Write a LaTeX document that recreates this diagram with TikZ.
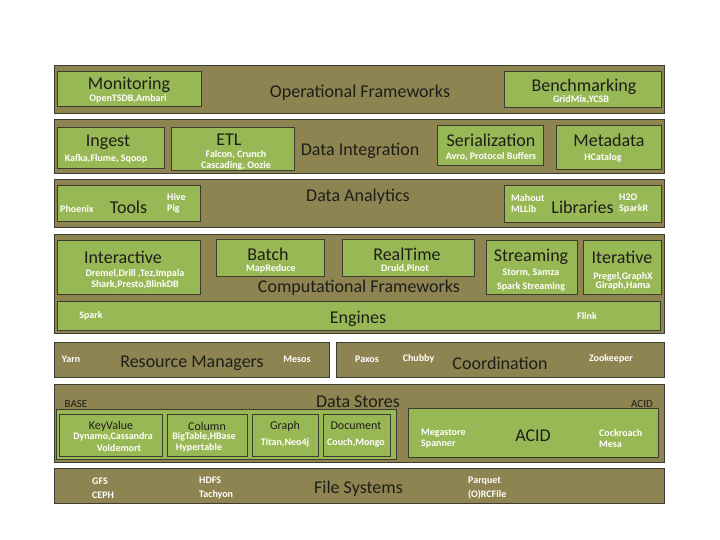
\documentclass[tikz,border=0pt]{standalone}
\usepackage{fontspec}
\setmainfont{Carlito}
\definecolor{olive}{RGB}{142,132,82}
\definecolor{leaf}{RGB}{152,184,86}
\definecolor{edge}{RGB}{60,60,48}
\definecolor{ink}{RGB}{30,30,25}
\begin{document}
\begin{tikzpicture}[x=1pt,y=-1pt,
    layer/.style={draw=edge,fill=olive,line width=1pt},
    block/.style={draw=edge,fill=leaf,line width=1pt},
    title/.style={font=\fontsize{18}{20}\selectfont,text=ink,inner sep=0pt},
    label/.style={font=\fontsize{12}{14}\selectfont,text=ink,inner sep=0pt},
    note/.style={font=\fontsize{11}{13}\selectfont,text=ink,inner sep=0pt},
    sub/.style={font=\bfseries\fontsize{10}{11.5}\selectfont,text=white,align=center,inner sep=0pt},
    subl/.style={sub,align=left,anchor=west}]
        \useasboundingbox (0,0) rectangle (720,540);
        % operational frameworks
        \draw[layer] (54,66) rectangle (664,114);
        \draw[block] (57,72) rectangle (201,107);
        \draw[block] (504,72) rectangle (661,108);
        \node[title] (monitor) at (129,85) {Monitoring};
        \node[sub] (monitorsub) at (128,99) {OpenTSDB,Ambari};
        \node[title] (ops) at (360,93) {Operational Frameworks};
        \node[title] (bench) at (584,87) {Benchmarking};
        \node[sub] (benchsub) at (581,100) {GridMix,YCSB};
        % data integration
        \draw[layer] (54,120) rectangle (664,174);
        \draw[block] (57,128) rectangle (164,169);
        \draw[block] (171,128) rectangle (294,171);
        \draw[block] (437,126) rectangle (543,166);
        \draw[block] (556,126) rectangle (661,170);
        \node[title] (ingest) at (108,142) {Ingest};
        \node[sub] (ingestsub) at (106,159) {Kafka,Flume, Sqoop};
        \node[title] (etl) at (229,139.5) {ETL};
        \node[sub] (etlsub) at (236,160.5) {Falcon, Crunch\\Cascading, Oozie};
        \node[title] (integ) at (360,151) {Data Integration};
        \node[title] (serial) at (491,140) {Serialization};
        \node[sub] (serialsub) at (491,157) {Avro, Protocol Buffers};
        \node[title] (meta) at (609,140) {Metadata};
        \node[sub] (metasub) at (603,158) {HCatalog};
        % data analytics
        \draw[layer] (54,180) rectangle (664,228);
        \draw[block] (57,186) rectangle (200,222);
        \draw[block] (504,186) rectangle (661,223);
        \node[sub] (phoenix) at (77,209) {Phoenix};
        \node[title] (tools) at (128.5,207) {Tools};
        \node[subl] (hive) at (167,203.5) {Hive\\Pig};
        \node[title] (analytics) at (358,197) {Data Analytics};
        \node[subl] (mahout) at (511,203.5) {Mahout\\MLLib};
        \node[title] (libs) at (582.5,207) {Libraries};
        \node[subl] (h2o) at (619,203.5) {H2O\\SparkR};
        % computational frameworks
        \draw[layer] (54,234) rectangle (664,333);
        \draw[block] (57,240) rectangle (200,294);
        \draw[block] (216,239) rectangle (324,276);
        \draw[block] (342,239) rectangle (474,276);
        \draw[block] (486,240) rectangle (577,294);
        \draw[block] (583,240) rectangle (661,294);
        \draw[block] (57,301) rectangle (660,330);
        \node[title] (interactive) at (123,257) {Interactive};
        \node[sub] (interactivesub) at (135,279) {Dremel,Drill ,Tez,Impala\\Shark,Presto,BlinkDB};
        \node[title] (batch) at (268,254.5) {Batch};
        \node[sub] (batchsub) at (271,269) {MapReduce};
        \node[title] (realtime) at (407,254.5) {RealTime};
        \node[sub] (realtimesub) at (405,269) {Druid,Pinot};
        \node[title] (stream) at (531,257) {Streaming};
        \node[sub,font=\bfseries\fontsize{10}{13.5}\selectfont] (streamsub) at (531,280) {Storm, Samza\\Spark Streaming};
        \node[title] (iter) at (622,257) {Iterative};
        \node[sub,font=\bfseries\fontsize{10}{9}\selectfont] (itersub) at (623,281.5) {Pregel,GraphX\\Giraph,Hama};
        \node[title] (comp) at (359,288) {Computational Frameworks};
        \node[title] (engines) at (358,319) {Engines};
        \node[sub] (spark) at (91,316) {Spark};
        \node[sub] (flink) at (587,316) {Flink};
        % resource managers, coordination
        \draw[layer] (54,342) rectangle (329,377);
        \draw[layer] (336,342) rectangle (664,377);
        \node[sub] (yarn) at (71,359) {Yarn};
        \node[title] (resman) at (192,363.5) {Resource Managers};
        \node[sub] (mesos) at (297,359) {Mesos};
        \node[sub] (paxos) at (367,359) {Paxos};
        \node[sub] (chubby) at (418.5,359) {Chubby};
        \node[title] (coord) at (500,363.5) {Coordination};
        \node[sub] (zoo) at (611,359) {Zookeeper};
        % data stores
        \draw[layer] (54,384) rectangle (664,462);
        \draw[block] (56,409) rectangle (396,459);
        \draw[block] (59,414) rectangle (162,456);
        \draw[block] (167,414) rectangle (247,456);
        \draw[block] (252,414) rectangle (318,456);
        \draw[block] (323,414) rectangle (390,456);
        \draw[block] (408,408) rectangle (658,457);
        \node[title] (stores) at (358,401.5) {Data Stores};
        \node[note] (base) at (76,404) {BASE};
        \node[note] (acidnote) at (642,404) {ACID};
        \node[label] (keyval) at (111,426) {KeyValue};
        \node[sub] (dynamo) at (113,437) {Dynamo,Cassandra};
        \node[sub] (volde) at (119,448) {Voldemort};
        \node[label] (column) at (207,426) {Column};
        \node[sub] (bigtable) at (204,437) {BigTable,HBase};
        \node[sub] (hyper) at (199,448) {Hypertable};
        \node[label] (graph) at (285,426) {Graph};
        \node[sub] (titan) at (285,443) {Titan,Neo4j};
        \node[label] (doc) at (356,426) {Document};
        \node[sub] (couch) at (356,443) {Couch,Mongo};
        \node[subl] (mega) at (421,438.5) {Megastore\\Spanner};
        \node[title] (acid) at (533,436) {ACID};
        \node[subl] (cock) at (599,438.5) {Cockroach\\Mesa};
        % file systems
        \draw[layer] (54,468) rectangle (664,503);
        \node[subl,font=\bfseries\fontsize{10}{14}\selectfont] (gfs) at (92,488) {GFS\\CEPH};
        \node[subl,font=\bfseries\fontsize{10}{14}\selectfont] (hdfs) at (199,488) {HDFS\\Tachyon};
        \node[title] (files) at (358.5,489) {File Systems};
        \node[subl,font=\bfseries\fontsize{10}{14}\selectfont] (parquet) at (468,488) {Parquet\\(O)RCFile};
\end{tikzpicture}
\end{document}
